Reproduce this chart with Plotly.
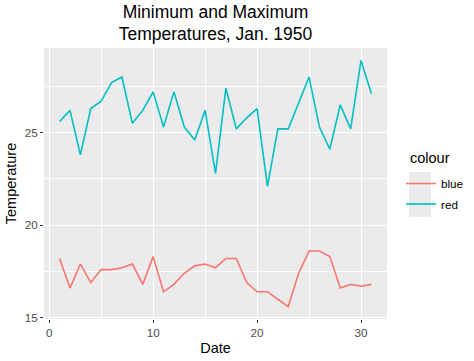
import plotly.graph_objects as go

days = list(range(1, 32))
max_temp = [25.6, 26.2, 23.8, 26.3, 26.7, 27.7, 28.0, 25.5, 26.2, 27.2,
            25.3, 27.2, 25.3, 24.6, 26.2, 22.8, 27.4, 25.2, 25.8, 26.3,
            22.1, 25.2, 25.2, 26.6, 28.0, 25.3, 24.1, 26.5, 25.2, 28.9, 27.1]
min_temp = [18.2, 16.6, 17.9, 16.9, 17.6, 17.6, 17.7, 17.9, 16.8, 18.3,
            16.4, 16.8, 17.4, 17.8, 17.9, 17.7, 18.2, 18.2, 16.9, 16.4,
            16.4, 16.0, 15.6, 17.4, 18.6, 18.6, 18.3, 16.6, 16.8, 16.7, 16.8]
series_names = ["blue", "red"]
series_colors = ["#F8766D", "#00BFC4"]
x_ticks = [0, 10, 20, 30]
y_ticks = [15, 20, 25]
title_text = "Minimum and Maximum<br>Temperatures, Jan. 1950"
legend_title = "colour"

FONT = "Liberation Sans, Arial, sans-serif"
L, R, T, B = 44, 87, 48, 42
W, H = 474, 361
PW, PH = W - L - R, H - T - B


def px_x(px):
    return (px - L) / PW


def px_y(py):
    return (H - B - py) / PH


fig = go.Figure()
for name, vals, col in zip(series_names, [min_temp, max_temp], series_colors):
    fig.add_trace(go.Scatter(x=days, y=vals, mode="lines", name=name, legendgroup=name,
                             line=dict(color=col, width=1.6)))

fig.update_layout(
    width=W, height=H,
    margin=dict(l=L, r=R, t=T, b=B, autoexpand=False),
    paper_bgcolor="white", plot_bgcolor="#EBEBEB",
    font=dict(family=FONT, color="black"),
    title=dict(text=title_text,
               x=(L + W - R) / 2 / W, xanchor="center", y=1 - 17.5 / H, yanchor="middle",
               font=dict(size=17.5, color="black")),
    showlegend=True,
    legend=dict(font=dict(size=11.7), x=px_x(401), xanchor="left", y=px_y(169), yanchor="top",
                bgcolor="rgba(0,0,0,0)", tracegroupgap=1.5),
    annotations=[dict(text=legend_title, xref="paper", yref="paper",
                      x=px_x(408), xanchor="left", y=px_y(158), yanchor="middle",
                      showarrow=False, font=dict(size=14.5, color="black"))],
    shapes=[dict(type="rect", xref="paper", yref="paper",
                 x0=px_x(409), x1=px_x(431), y0=px_y(172), y1=px_y(217),
                 fillcolor="#EBEBEB", line=dict(width=0), layer="below")],
)
fig.update_xaxes(
    range=[-0.5, 32.5], tickvals=x_ticks, ticktext=[str(v) for v in x_ticks],
    automargin=False,
    showgrid=True, gridcolor="white", gridwidth=1.1, zeroline=False,
    minor=dict(dtick=5, tick0=5, showgrid=True, gridcolor="white", gridwidth=0.5),
    ticks="outside", ticklen=3, tickcolor="#333333", tickwidth=1,
    tickfont=dict(size=11.7, color="#4D4D4D"),
    title=dict(text="Date", font=dict(size=14.5), standoff=4),
    showline=False,
)
fig.update_yaxes(
    range=[14.93, 29.57], tickvals=y_ticks, ticktext=[str(v) for v in y_ticks],
    automargin=False,
    showgrid=True, gridcolor="white", gridwidth=1.1, zeroline=False,
    minor=dict(dtick=5, tick0=2.5, showgrid=True, gridcolor="white", gridwidth=0.5),
    ticks="outside", ticklen=3, tickcolor="#333333", tickwidth=1,
    tickfont=dict(size=11.7, color="#4D4D4D"),
    title=dict(text="Temperature", font=dict(size=14.5), standoff=4),
    showline=False,
)

fig.write_html("out.html", config={"displayModeBar": False},
               post_script="document.body.style.margin='0';document.body.style.padding='0';"
                           "document.body.style.overflow='hidden';")
